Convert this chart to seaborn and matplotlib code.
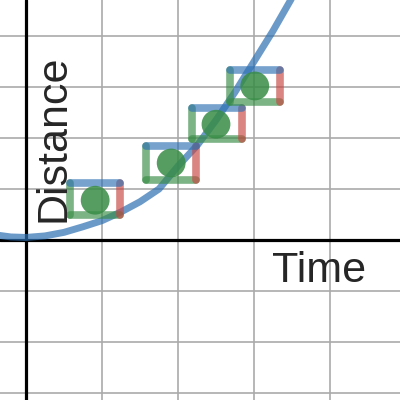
import matplotlib
matplotlib.use("Agg")
import matplotlib.pyplot as plt
import seaborn as sns
import pandas as pd

# curve points
curve_x = [-0.4, -0.2, 0.0, 0.25, 0.5, 0.75, 1.0, 1.25, 1.5, 1.75, 2.0, 2.25, 2.5, 2.75, 3.0, 3.25, 3.5, 3.6]
curve_y = [0.1, 0.06, 0.05, 0.08, 0.15, 0.26, 0.38, 0.55, 0.75, 1.0, 1.45, 1.85, 2.35, 2.9, 3.5, 4.1, 4.75, 5.0]

# boxes: left, right, bottom, top ; dot centres
box_left = [0.58, 1.58, 2.18, 2.68]
box_right = [1.24, 2.24, 2.84, 3.34]
box_bottom = [0.49, 1.18, 1.98, 2.71]
box_top = [1.12, 1.84, 2.59, 3.33]
dot_x = [0.91, 1.91, 2.50, 3.01]
dot_y = [0.78, 1.51, 2.27, 3.02]

sns.set_style("white")
plt.rcParams['font.family'] = ['Liberation Sans', 'DejaVu Sans']
fig = plt.figure(figsize=(4, 4), dpi=100)
ax = fig.add_axes([0, 0, 1, 1])
xmin, xmax = -26/76, 374/76
ymin, ymax = -160/51, 240/51
ax.set_xlim(xmin, xmax); ax.set_ylim(ymin, ymax)
for gx in range(-1, 6):
    ax.axvline(gx, color='#aaaaaa', lw=1.2, zorder=0)
for gy in range(-4, 6):
    ax.axhline(gy, color='#aaaaaa', lw=1.2, zorder=0)
ax.axvline(0, color='black', lw=2.3, zorder=1)
ax.axhline(0, color='black', lw=2.3, zorder=1)
for s in ax.spines.values():
    s.set_visible(False)
ax.set_xticks([]); ax.set_yticks([])

df = pd.DataFrame({'x': curve_x, 'y': curve_y})
sns.lineplot(data=df, x='x', y='y', ax=ax, color='#2d70b3', lw=5, alpha=0.7, sort=False, zorder=2)

lw = 5.5
for l, r, b, t in zip(box_left, box_right, box_bottom, box_top):
    ax.plot([l, r], [b, b], color='#388c46', lw=lw, alpha=0.65, solid_capstyle='round', zorder=3)
    ax.plot([l, l], [b, t], color='#388c46', lw=lw, alpha=0.65, solid_capstyle='round', zorder=3)
    ax.plot([r, r], [b, t], color='#c74440', lw=lw, alpha=0.65, solid_capstyle='round', zorder=3)
    ax.plot([l, r], [t, t], color='#2d70b3', lw=lw, alpha=0.65, solid_capstyle='round', zorder=3)
sns.scatterplot(x=dot_x, y=dot_y, ax=ax, color='#388c46', s=430, alpha=0.85, edgecolor='none', zorder=4)

ax.text(33/400, 1-222/400, 'Distance', transform=ax.transAxes, rotation=90,
        fontsize=31, ha='left', va='bottom')
ax.text(272/400, 1-282/400, 'Time', transform=ax.transAxes, fontsize=31, ha='left', va='baseline')
ax.set_xlabel(''); ax.set_ylabel('')
fig.savefig('out.png', dpi=100)
